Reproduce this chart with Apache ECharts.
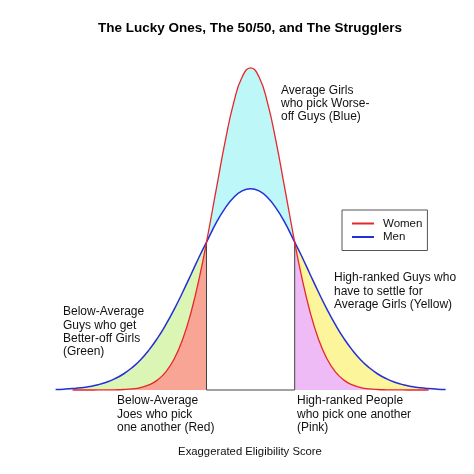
<!DOCTYPE html>
<html>
<head>
<meta charset="utf-8">
<script src="https://cdn.jsdelivr.net/npm/echarts@6/dist/echarts.min.js"></script>
<style>
  html, body { margin: 0; padding: 0; background: #fff; }
  #chart { width: 474px; height: 474px; }
</style>
</head>
<body>
<div id="chart"></div>
<script>
// eligibility score positions (x) and the two curves
const xs = [-3.45, -3.3, -3.15, -3.0, -2.85, -2.7, -2.55, -2.4, -2.25, -2.1, -1.95, -1.8,
  -1.65, -1.5, -1.35, -1.2, -1.05, -0.9, -0.78, -0.6, -0.45, -0.3, -0.15, 0,
  0.15, 0.3, 0.45, 0.6, 0.78, 0.9, 1.05, 1.2, 1.35, 1.5, 1.65, 1.8,
  1.95, 2.1, 2.25, 2.4, 2.55, 2.7, 2.85, 3.0, 3.15, 3.3, 3.45];

const menY = [0.0010, 0.0017, 0.0028, 0.0044, 0.0069, 0.0104, 0.0155, 0.0224, 0.0317, 0.0440, 0.0596, 0.0790,
  0.1023, 0.1295, 0.1604, 0.1942, 0.2299, 0.2661, 0.293, 0.3332, 0.3605, 0.3814, 0.3945, 0.3989,
  0.3945, 0.3814, 0.3605, 0.3332, 0.293, 0.2661, 0.2299, 0.1942, 0.1604, 0.1295, 0.1023, 0.0790,
  0.0596, 0.0440, 0.0317, 0.0224, 0.0155, 0.0104, 0.0069, 0.0044, 0.0028, 0.0017, 0.0010];

const womenY = [null, null, 0.0000, 0.0000, 0.0000, 0.0001, 0.0002, 0.0004, 0.0010, 0.0023, 0.0049, 0.0101,
  0.0196, 0.0358, 0.0619, 0.1011, 0.1556, 0.2263, 0.293, 0.4026, 0.4926, 0.5689, 0.6202, 0.6383,
  0.6202, 0.5689, 0.4926, 0.4026, 0.293, 0.2263, 0.1556, 0.1011, 0.0619, 0.0358, 0.0196, 0.0101,
  0.0049, 0.0023, 0.0010, 0.0004, 0.0002, 0.0001, 0.0000, 0.0000, 0.0000, null, null];

// where the curves cross
const crossLeft = -0.78;
const crossRight = 0.78;

const FONT = '"Liberation Sans", Arial, sans-serif';

function pick(ys, lo, hi) {
  const out = [];
  xs.forEach((x, i) => {
    if (x >= lo && x <= hi && ys[i] != null) out.push([x, ys[i]]);
  });
  return out;
}

function area(data, color) {
  return {
    type: 'line',
    data: data,
    smooth: true,
    symbol: 'none',
    silent: true,
    lineStyle: { width: 0, opacity: 0 },
    areaStyle: { color: color, opacity: 1 }
  };
}

function label(text, x, y) {
  return {
    type: 'text',
    left: x,
    top: y,
    silent: true,
    style: {
      text: text,
      fill: '#111',
      font: '12px ' + FONT,
      lineHeight: 13.2
    }
  };
}

const iLeft = xs.indexOf(crossLeft);
const iRight = xs.indexOf(crossRight);

const chart = echarts.init(document.getElementById('chart'));

chart.setOption({
  animation: false,
  grid: { left: 55.6, top: 62, width: 390, height: 328 },
  xAxis: {
    type: 'value', min: -3.45, max: 3.45, show: false
  },
  yAxis: {
    type: 'value', min: 0, max: 0.65, show: false
  },
  legend: {
    data: [
      { name: 'Women', icon: 'rect', itemStyle: { color: '#E8262A' } },
      { name: 'Men', icon: 'rect', itemStyle: { color: '#2230DA' } }
    ],
    orient: 'vertical',
    left: 342,
    top: 210,
    padding: [7.5, 5, 7.5, 10],
    itemWidth: 22,
    itemHeight: 2,
    itemGap: 1.5,
    borderColor: '#555',
    borderWidth: 1,
    borderRadius: 0,
    backgroundColor: '#fff',
    textStyle: { fontFamily: FONT, fontSize: 11.5, color: '#111', padding: [0, 0, 0, 4] }
  },
  graphic: [
    {
      type: 'text', x: 250, y: 21, silent: true,
      style: {
        text: 'The Lucky Ones, The 50/50, and The Strugglers',
        fill: '#000', font: 'bold 13.5px ' + FONT, textAlign: 'center'
      }
    },
    {
      type: 'text', x: 250, y: 446.5, silent: true,
      style: {
        text: 'Exaggerated Eligibility Score',
        fill: '#111', font: '11.3px ' + FONT, textAlign: 'center'
      }
    },
    label('Average Girls\nwho pick Worse-\noff Guys (Blue)', 281, 84),
    label('Average Joes\nwho pick one\nanother (White)', 208, 264.5),
    label('Below-Average\nGuys who get\nBetter-off Girls\n(Green)', 63, 305.5),
    label('High-ranked Guys who\nhave to settle for\nAverage Girls (Yellow)', 334, 271.5),
    label('Below-Average\nJoes who pick\none another (Red)', 117, 394.5),
    label('High-ranked People\nwho pick one another\n(Pink)', 297, 394.5)
  ],
  series: [
    area(pick(menY, -Infinity, crossLeft), '#DAF5B4'),
    area(pick(womenY, -Infinity, crossLeft), '#F8A596'),
    area(pick(womenY, crossLeft, crossRight), '#BDF7F8'),
    area(pick(menY, crossLeft, crossRight), '#ffffff'),
    area(pick(menY, crossRight, Infinity), '#FDF59B'),
    area(pick(womenY, crossRight, Infinity), '#EFBBF7'),
    {
      type: 'line',
      silent: true,
      symbol: 'none',
      clip: false,
      data: [[crossLeft, menY[iLeft]], [crossLeft, 0], [crossRight, 0], [crossRight, menY[iRight]]],
      lineStyle: { color: '#444', width: 1 }
    },
    {
      name: 'Men',
      type: 'line',
      smooth: true,
      symbol: 'none',
      clip: false,
      data: pick(menY, -Infinity, Infinity),
      lineStyle: { color: '#2230DA', width: 1.5 },
      itemStyle: { color: '#2230DA' }
    },
    {
      name: 'Women',
      type: 'line',
      smooth: true,
      symbol: 'none',
      clip: false,
      data: pick(womenY, -Infinity, Infinity),
      lineStyle: { color: '#E8262A', width: 1.3 },
      itemStyle: { color: '#E8262A' }
    }
  ]
});
</script>
</body>
</html>
